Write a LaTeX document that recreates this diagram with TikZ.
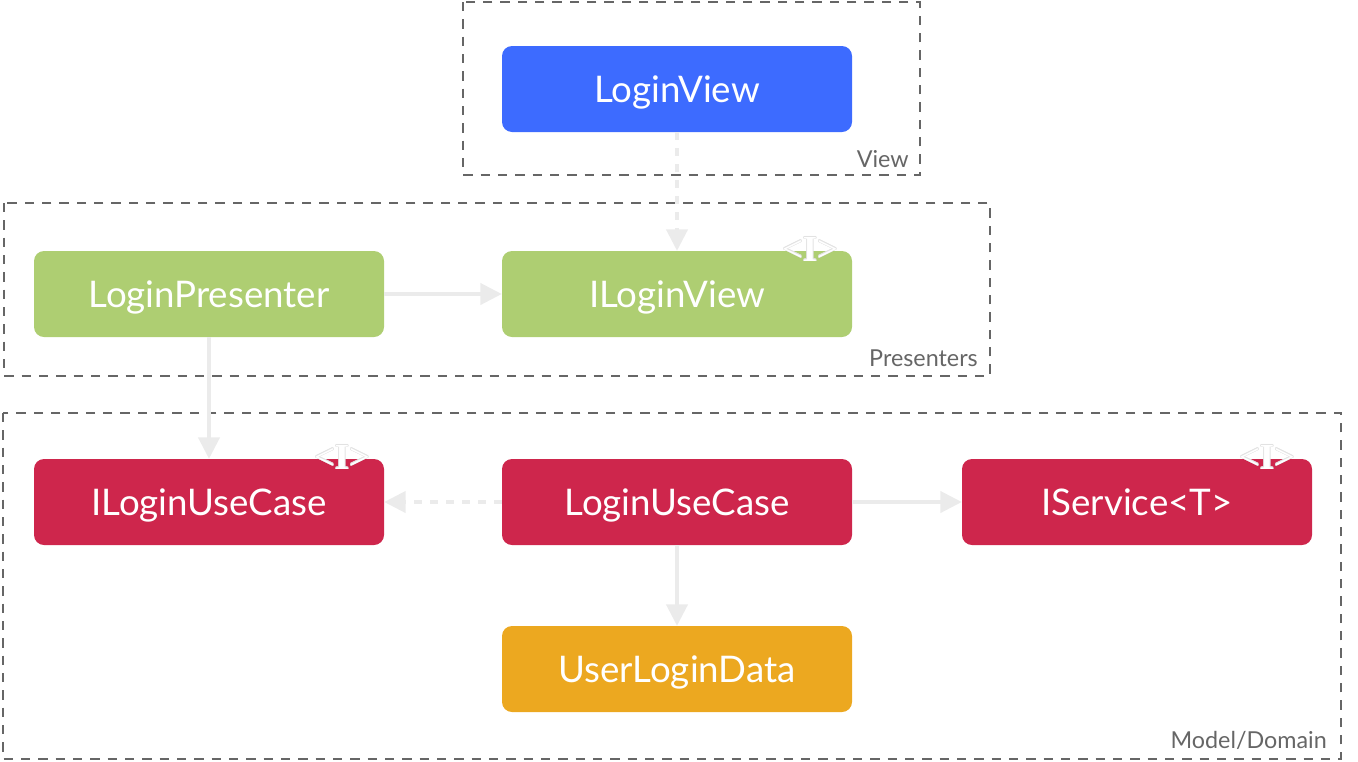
\documentclass[tikz,border=0pt]{standalone}
\usepackage{fontspec}
\setmainfont{Lato}
\newfontfamily\badgefont{Liberation Serif}
\usetikzlibrary{arrows.meta}
\definecolor{viewblue}{HTML}{3D6BFF}
\definecolor{presgreen}{HTML}{AECE72}
\definecolor{modred}{HTML}{CE264C}
\definecolor{dataorange}{HTML}{ECA820}
\definecolor{framegray}{HTML}{666666}
\definecolor{arrowgray}{HTML}{EBEBEB}
\definecolor{badgeedge}{HTML}{E2E2E2}
\tikzset{
  layer/.style={draw=framegray, line width=1.9pt, dash pattern=on 7pt off 6pt},
  layerlabel/.style={text=framegray, font=\fontsize{17.5}{20}\selectfont, anchor=base east, inner sep=0pt},
  comp/.style={rounded corners=7.5pt, minimum width=262.5pt, minimum height=64.5pt, inner sep=0pt,
     text=white, font=\fontsize{27.5}{31}\selectfont, text height=19.8pt, text depth=0pt},
  badge/.style={font=\badgefont\fontsize{27.5}{29}\selectfont, inner sep=0pt, text height=18.2pt, text depth=0pt},
  conn/.style={draw=arrowgray, line width=2.3pt, -{Triangle[length=16pt,width=16pt]}},
  dconn/.style={conn, dash pattern=on 6pt off 6pt},
}
\newcommand{\mybadge}[2]{%
  \foreach \dx/\dy in {-0.7/0,0.7/0,0/-0.7,0/0.7,-0.5/-0.5,0.5/0.5,-0.5/0.5,0.5/-0.5}{
    \node[badge, text=badgeedge] at ([shift={(\dx,\dy)}]#1) {<\textbf{I}>};}
  \node[badge, text=white] (#2) at (#1) {<\textbf{I}>};}
\begin{document}
\begin{tikzpicture}[x=0.75pt,y=-0.75pt]
\useasboundingbox (0,0) rectangle (1358,761);
% layers
\draw[layer] (463,2) rectangle (920,175);
\draw[layer] (4,203) rectangle (990,376);
\draw[layer] (3,413) rectangle (1341,759);
\node[layerlabel] (lv) at (909,167) {View};
\node[layerlabel] (lp) at (978,366) {Presenters};
\node[layerlabel] (lm) at (1327,748) {Model/Domain};
% components
\node[comp, fill=viewblue] (loginview) at (677,89) {LoginView};
\node[comp, fill=presgreen] (presenter) at (209,294) {LoginPresenter};
\node[comp, fill=presgreen] (iloginview) at (677,294) {ILoginView};
\node[comp, fill=modred] (iusecase) at (209,502) {ILoginUseCase};
\node[comp, fill=modred] (usecase) at (677,502) {LoginUseCase};
\node[comp, fill=modred] (iservice) at (1137,502) {IService<T>};
\node[comp, fill=dataorange] (userdata) at (677,669) {UserLoginData};
% badges
\mybadge{810,249}{b1}
\mybadge{342,457}{b2}
\mybadge{1267,457}{b3}
% connectors
\draw[dconn] (loginview.south) -- (iloginview.north);
\draw[conn] (presenter.east) -- (iloginview.west);
\draw[conn] (presenter.south) -- (iusecase.north);
\draw[dconn] (usecase.west) -- (iusecase.east);
\draw[conn] (usecase.east) -- (iservice.west);
\draw[conn] (usecase.south) -- (userdata.north);
\end{tikzpicture}
\end{document}
